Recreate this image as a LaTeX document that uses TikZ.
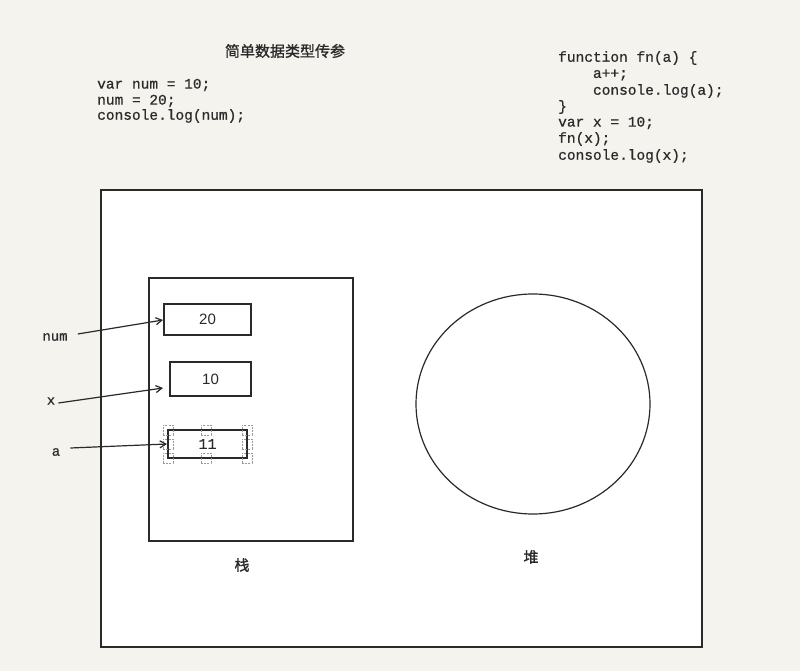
\documentclass[tikz,border=0pt]{standalone}
\usepackage{fontspec}
\setmonofont[FakeBold=0.6]{Liberation Mono}
\newfontfamily\cjk[FakeBold=1.2]{Noto Sans CJK SC}
\newfontfamily\sansnum{Liberation Sans}
\usetikzlibrary{arrows.meta}
\definecolor{bgpaper}{HTML}{F4F3EE}
\definecolor{ink}{HTML}{2A2A2A}
\tikzset{
  codeline/.style={anchor=west, inner sep=0pt, font=\ttfamily\fontsize{14.5}{16}\selectfont, text=ink},
  varlabel/.style={inner sep=0pt, font=\ttfamily\fontsize{14}{16}\selectfont, text=ink},
  cell/.style={draw=ink, line width=1.3pt, inner sep=0pt, font=\sansnum\fontsize{15}{16}\selectfont, text=ink},
  handle/.style={draw=gray!80, dashed, dash pattern=on 2pt off 1.2pt, line width=0.8pt, minimum width=10pt, minimum height=10pt, inner sep=0pt},
  ptr/.style={draw=ink, line width=1.2pt, -{Straight Barb[length=6pt,width=7pt,line width=1.2pt]}},
  frame/.style={draw=ink, line width=1.2pt},
  cjklabel/.style={inner sep=0pt, font=\cjk\fontsize{15}{16}\selectfont, text=ink}
}
\begin{document}
\begin{tikzpicture}[x=1pt,y=-1pt]
\useasboundingbox (0,0) rectangle (800,671);
\fill[bgpaper] (0,0) rectangle (800,671);
% title and code
\node[cjklabel] (title) at (285,51) {简单数据类型传参};
\node[codeline] (l1) at (97,85) {var num = 10;};
\node[codeline] (l2) at (97,101) {num = 20;};
\node[codeline] (l3) at (97,116) {console.log(num);};
\node[codeline] (r1) at (558,58) {function fn(a) \{};
\node[codeline] (r2) at (558,75) {\ \ \ \ a++;};
\node[codeline] (r3) at (558,91) {\ \ \ \ console.log(a);};
\node[codeline] (r4) at (558,107) {\}};
\node[codeline] (r5) at (558,123) {var x = 10;};
\node[codeline] (r6) at (558,139) {fn(x);};
\node[codeline] (r7) at (558,156) {console.log(x);};
% frames
\filldraw[frame, fill=white] (101,190) rectangle (702,647);
\draw[frame] (149,278) rectangle (353,541);
\draw[frame] (533,404) ellipse [x radius=117, y radius=110];
\node[cjklabel] (stack) at (242,565) {栈};
\node[cjklabel] (heap) at (531,557) {堆};
% cells
\node[cell, minimum width=87pt, minimum height=31pt] (c20) at (207.5,319.5) {20};
\node[cell, minimum width=81pt, minimum height=34pt] (c10) at (210.5,379) {10};
\node[cell, minimum width=79pt, minimum height=28pt, font=\ttfamily\fontsize{15}{16}\selectfont] (c11) at (207.5,444) {11};
% selection handles
\foreach \hx/\hy [count=\i] in {168/430,206/430,247/430,168/444,247/444,168/458,206/458,247/458}
  \node[handle] (h\i) at (\hx,\hy) {};
% variable labels
\node[varlabel] (vnum) at (55,337) {num};
\node[varlabel] (vx) at (51,401) {x};
\node[varlabel] (va) at (56,452) {a};
\coordinate (tnum) at (163,320);
\coordinate (tx) at (163,388);
\coordinate (ta) at (167,444);
\draw[ptr] ([xshift=10pt,yshift=3pt]vnum.east) -- (tnum);
\draw[ptr] ([xshift=3pt,yshift=-2pt]vx.east) -- (tx);
\draw[ptr] ([xshift=10pt,yshift=4pt]va.east) -- (ta);
\end{tikzpicture}
\end{document}
